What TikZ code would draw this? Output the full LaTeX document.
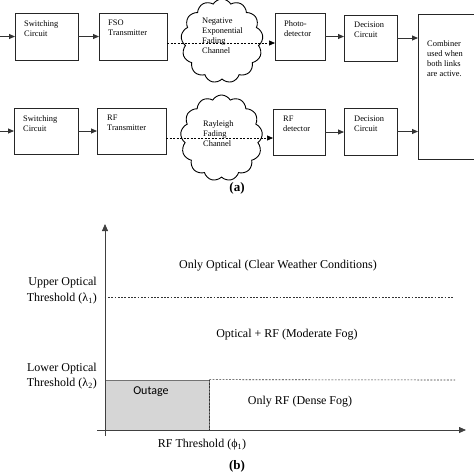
\documentclass[tikz,border=0pt]{standalone}
\usepackage{fontspec}
\setmainfont{Liberation Serif}
\newfontfamily\carl{Carlito}
\usetikzlibrary{shapes.symbols,arrows.meta,calc}
\begin{document}
\begin{tikzpicture}[x=1pt,y=-1pt,
  blk/.style={draw=black!85, line width=0.9pt, rectangle, inner sep=0pt, outer sep=0pt},
  txt/.style={anchor=north west, align=left, font=\fontsize{8.4}{10}\selectfont, inner sep=0pt},
  arr/.style={draw=black!80, line width=0.9pt, -{Triangle[length=6pt,width=5pt]}},
  dsh/.style={dash pattern=on 2pt off 1.5pt, line width=0.7pt},
  cld/.style={cloud, cloud puffs=13, cloud puff arc=120, cloud ignores aspect, draw=black, line width=0.9pt, fill=white, inner sep=0pt},
  lbl/.style={font=\fontsize{12}{16}\selectfont, inner sep=0pt},
  ax/.style={draw=black!75, line width=0.8pt, -{Triangle[length=7pt,width=6pt]}},
  thr/.style={draw=black!80, dash pattern=on 1.8pt off 1.5pt, line width=0.6pt}
]
\useasboundingbox (0,0) rectangle (474,474);
\fill[white] (0,0) rectangle (474,474);
% ---------- (a) top row ----------
\coordinate (in1) at (0,36.5);
\node[blk, minimum width=63pt, minimum height=47pt] (sc1) at (46.5,36.5) {};
\node[txt] (sc1t) at (24,20) {Switching\\Circuit};
\node[blk, minimum width=68pt, minimum height=47pt] (fso) at (133,36.5) {};
\node[txt] (fsot) at (108,20) {FSO\\Transmitter};
\node[cld, minimum width=82pt, minimum height=84pt] (c1) at (222,41) {};
\node[txt] (c1t) at (202,18) {Negative\\Exponential\\Fading\\Channel};
\node[blk, minimum width=50pt, minimum height=47pt] (pd) at (300,36.5) {};
\node[txt] (pdt) at (284,20) {Photo-\\detector};
\node[blk, minimum width=53pt, minimum height=46pt] (dc1) at (370.5,38) {};
\node[txt] (dc1t) at (354,22) {Decision\\Circuit};
\node[inner sep=0pt, outer sep=0pt, minimum width=56pt, minimum height=145pt] (comb) at (446,86.5) {};
\draw[draw=black!85, line width=0.9pt] (comb.north east) -- (comb.north west) -- (comb.south west) -- (comb.south east);
\node[txt] (combt) at (427,40) {Combiner\\used when\\both links\\are active.};
\draw[arr] (in1) -- (sc1.west);
\draw[arr] (sc1.east) -- (fso.west);
\draw[arr, dsh, draw=black] ($(fso.east)+(0,6.5)$) -- ($(pd.west)+(0,6.5)$);
\draw[arr] (pd.east) -- (pd.east -| dc1.west);
\draw[arr] (dc1.east) -- (dc1.east -| comb.west);
% ---------- (a) bottom row ----------
\coordinate (in2) at (0,131);
\node[blk, minimum width=64pt, minimum height=46pt] (sc2) at (46,131) {};
\node[txt] (sc2t) at (23,115) {Switching\\Circuit};
\node[blk, minimum width=69pt, minimum height=46pt] (rf) at (131.5,131) {};
\node[txt] (rft) at (107,115) {RF\\Transmitter};
\node[cld, minimum width=82pt, minimum height=86pt] (c2) at (221.5,138) {};
\node[txt] (c2t) at (203,120) {Rayleigh\\Fading\\Channel};
\node[blk, minimum width=52pt, minimum height=46pt] (rfd) at (299,132) {};
\node[txt] (rfdt) at (283,116) {RF\\detector};
\node[blk, minimum width=53pt, minimum height=47pt] (dc2) at (370.5,131.5) {};
\node[txt] (dc2t) at (354,116) {Decision\\Circuit};
\draw[arr] (in2) -- (sc2.west);
\draw[arr] (sc2.east) -- (rf.west);
\draw[arr, dsh, draw=black] ($(rf.east)+(0,7)$) -- ($(rfd.west)+(0,6)$);
\draw[arr] (rfd.east) -- (rfd.east -| dc2.west);
\draw[arr] (dc2.east) -- (dc2.east -| comb.west);
\node[font=\fontsize{13}{15}\selectfont\bfseries, inner sep=0pt] (capa) at (237,188) {(a)};
% ---------- (b) ----------
\coordinate (o) at (105,430);
\coordinate (ytop) at (105,224);
\coordinate (ybot) at (105,436);
\coordinate (xl) at (97,430);
\coordinate (xr) at (466,430);
\coordinate (ue) at (453,297);
\coordinate (le) at (455,380);
\node[draw=black!55, fill=black!16, line width=0.7pt, inner sep=0pt, minimum width=104pt, minimum height=50pt] (out) at (157,405) {};
\draw[thr] (out.north west |- ue) -- (ue);
\draw[thr] (out.north east) -- (le);
\draw[thr] (out.north east) -- (out.south east);
\draw[ax] (ybot) -- (ytop);
\draw[ax] (xl) -- (xr);
\node[lbl, anchor=east, align=right] (ut) at (97,291) {Upper Optical\\Threshold (λ\textsubscript{1})};
\node[lbl, anchor=east, align=right, font=\fontsize{12}{15}\selectfont] (lt) at (97,376.5) {Lower Optical\\Threshold (λ\textsubscript{2})};
\node[lbl] (r1) at (278,266) {Only Optical (Clear Weather Conditions)};
\node[lbl] (r2) at (287,335) {Optical + RF (Moderate Fog)};
\node[lbl, font=\carl\fontsize{12}{14}\selectfont] (r3) at (151,392) {Outage};
\node[lbl] (r4) at (300,402) {Only RF (Dense Fog)};
\node[lbl] (rft2) at (202,445) {RF Threshold (ϕ\textsubscript{1})};
\node[font=\fontsize{13}{15}\selectfont\bfseries, inner sep=0pt] (capb) at (237,466) {(b)};
\end{tikzpicture}
\end{document}
